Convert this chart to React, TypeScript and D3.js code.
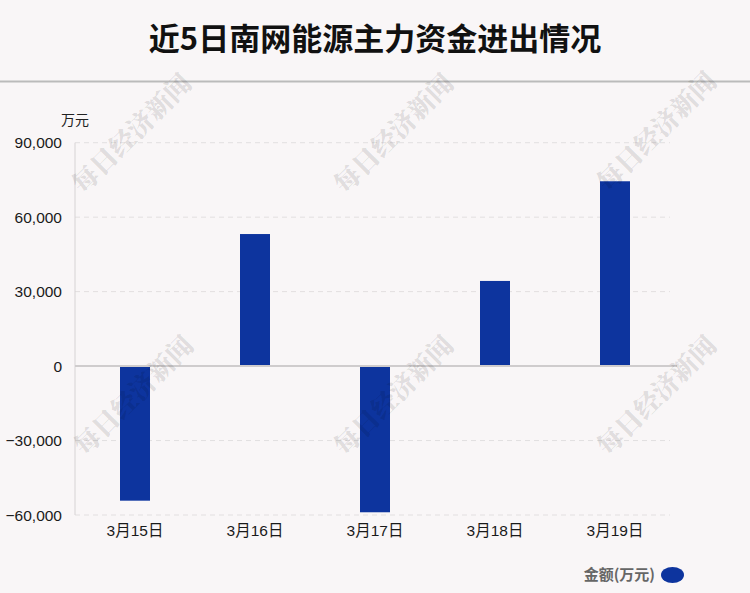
import React from "react";
import * as d3 from "d3";

const categories = ["3月15日", "3月16日", "3月17日", "3月18日", "3月19日"];
const values = [-54230, 53200, -58900, 34300, 74460];
const yTicks = [-60000, -30000, 0, 30000, 60000, 90000];
const title = "近5日南网能源主力资金进出情况";
const unitLabel = "万元";
const legendLabel = "金额(万元)";
const watermark = "每日经济新闻";

export default function App() {
  const W = 750, H = 593;
  const left = 75, right = 675, top = 142.7, bottom = 515;
  const x = d3.scaleBand<string>().domain(categories).range([left, right]).paddingInner(0.75).paddingOuter(0.375);
  const y = d3.scaleLinear().domain([-60000, 90000]).range([bottom, top]);
  const fmt = d3.format(",");
  const font = "'Liberation Sans', Arial, 'Noto Sans CJK SC', sans-serif";
  const wmPos = [[130, 132], [392, 132], [655, 130], [132, 394], [392, 394], [655, 394]];
  return (
    <svg width={W} height={H} style={{ position: "absolute", left: 0, top: 0, display: "block" }} fontFamily={font}>
      <rect width={W} height={H} fill="#f9f6f7" />
      <text x={W / 2} y={50} textAnchor="middle" fontSize={31} fontWeight="bold" fill="#111"
        fontFamily="'Noto Sans CJK SC', sans-serif">{title}</text>
      <line x1={0} x2={W} y1={81.5} y2={81.5} stroke="#bbb" strokeWidth={2} />
      {yTicks.filter(t => t !== 0).map(t => (
        <line key={t} x1={left} x2={670} y1={y(t)} y2={y(t)} stroke="#e2dfe0" strokeDasharray="5,4" strokeWidth={1} />
      ))}
      <line x1={left} x2={left} y1={top} y2={bottom} stroke="#d6d3d4" strokeWidth={1} />
      {yTicks.map(t => (
        <text key={t} x={62} y={y(t) + 5.5} textAnchor="end" fontSize={15.5} fill="#1a1a1a">{fmt(t)}</text>
      ))}
      <text x={61} y={125} fontSize={14} fill="#222" fontFamily="'Noto Sans CJK SC', sans-serif">{unitLabel}</text>
      {categories.map((c, i) => {
        const v = values[i];
        return (
          <rect key={c} x={x(c)} width={x.bandwidth()} y={Math.min(y(v), y(0))} height={Math.abs(y(v) - y(0))} fill="#0d349e" />
        );
      })}
      <line x1={left} x2={677} y1={y(0)} y2={y(0)} stroke="#cfcccd" strokeWidth={2} />
      {categories.map(c => (
        <text key={c} x={(x(c) as number) + x.bandwidth() / 2} y={536} textAnchor="middle" fontSize={15.5} fill="#1a1a1a">{c}</text>
      ))}
      {wmPos.map(([cx, cy], i) => (
        <text key={i} x={cx} y={cy} textAnchor="middle" dominantBaseline="central" fontSize={26} fontWeight={900}
          fill="#000" fillOpacity={0.11} transform={`rotate(-45 ${cx} ${cy})`}
          fontFamily="'Noto Serif CJK SC', 'Noto Sans CJK SC', serif">{watermark}</text>
      ))}
      <text x={655} y={580} textAnchor="end" fontSize={15} fontWeight="bold" fill="#666"
        fontFamily="'Noto Sans CJK SC', sans-serif">{legendLabel}</text>
      <ellipse cx={672.5} cy={575} rx={11.5} ry={8} fill="#0d349e" />
    </svg>
  );
}
